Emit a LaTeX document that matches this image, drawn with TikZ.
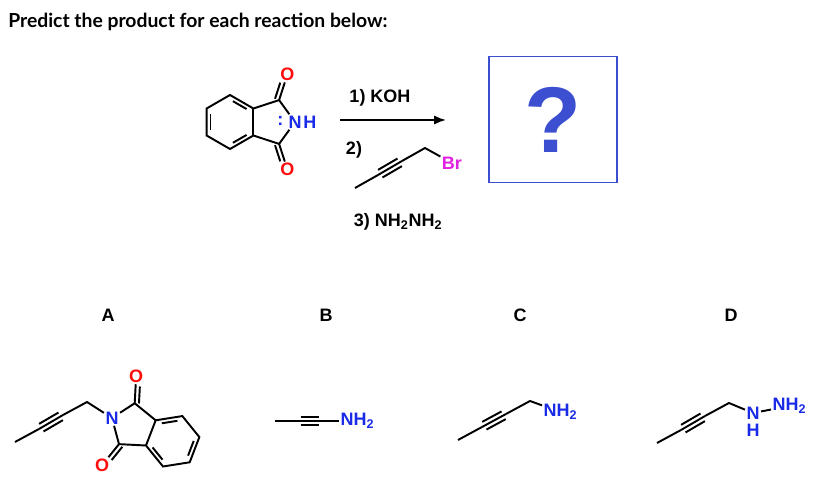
\documentclass[tikz,border=0pt]{standalone}
\usepackage{fontspec}
\setmainfont{Liberation Sans}
\newfontfamily\titlefont{Lato}
\usetikzlibrary{calc,arrows.meta}
\definecolor{oxred}{HTML}{FF0D0D}
\definecolor{nblue}{HTML}{1A2BE8}
\definecolor{brmag}{HTML}{E020E0}
\definecolor{boxblue}{HTML}{3B4FD0}
\tikzset{bond/.style={line width=1.45pt},
 atom/.style={inner sep=1pt,font=\fontsize{13.5}{15}\selectfont\bfseries},
 atomO/.style={atom,text=oxred},
 atomN/.style={atom,text=nblue},
 lbl/.style={font=\fontsize{13.5}{15}\selectfont\bfseries,inner sep=0pt}}
\newcommand\phth[3]{%
\begin{scope}[shift={#1},yscale=-1,rotate=#2]
\coordinate (#3N) at (0,0);
\coordinate (#3C1) at (-15.9,21.9);
\coordinate (#3C7a) at (-41.6,13.5);
\coordinate (#3C3a) at (-41.6,-13.5);
\coordinate (#3C3) at (-15.9,-21.9);
\coordinate (#3O1) at (-7.6,47.6);
\coordinate (#3O3) at (-7.6,-47.6);
\coordinate (#3b2) at (-65,27);
\coordinate (#3b3) at (-88.4,13.5);
\coordinate (#3b4) at (-88.4,-13.5);
\coordinate (#3b5) at (-65,-27);
\coordinate (#3i1) at (-45.5,11.25);
\coordinate (#3i2) at (-65,22.5);
\coordinate (#3i3) at (-84.5,11.25);
\coordinate (#3i4) at (-84.5,-11.25);
\coordinate (#3i5) at (-65,-22.5);
\coordinate (#3i6) at (-45.5,-11.25);
\node[atomN] (#3Nl) at (#3N) {N};
\node[atomO] (#3Ol1) at (#3O1) {O};
\node[atomO] (#3Ol3) at (#3O3) {O};
\draw[bond] (#3Nl) -- (#3C1) -- (#3C7a) -- (#3b2) -- (#3b3) -- (#3b4) -- (#3b5) -- (#3C3a) -- (#3C3) -- (#3Nl);
\draw[bond] (#3C7a) -- (#3C3a);
\draw[bond] (#3C1) -- (#3Ol1);
\draw[bond] (#3C3) -- (#3Ol3);
\draw[bond,shorten >=7.5pt] ($(#3C1)!3.2pt!-90:(#3O1)$) -- ($(#3O1)!3.2pt!90:(#3C1)$);
\draw[bond,shorten >=7.5pt] ($(#3C3)!3.2pt!90:(#3O3)$) -- ($(#3O3)!3.2pt!-90:(#3C3)$);
\draw[bond] ($(#3i1)!0.15!(#3i2)$) -- ($(#3i1)!0.85!(#3i2)$);
\draw[bond] ($(#3i3)!0.15!(#3i4)$) -- ($(#3i3)!0.85!(#3i4)$);
\draw[bond] ($(#3i5)!0.15!(#3i6)$) -- ($(#3i5)!0.85!(#3i6)$);
\end{scope}}
\newcommand\trip[2]{%
\draw[bond] (#1) -- (#2);
\draw[bond,shorten <=2pt,shorten >=2pt] ($(#1)!3.3pt!90:(#2)$) -- ($(#2)!3.3pt!-90:(#1)$);
\draw[bond,shorten <=2pt,shorten >=2pt] ($(#1)!3.3pt!-90:(#2)$) -- ($(#2)!3.3pt!90:(#1)$);}
\begin{document}
\begin{tikzpicture}[x=0.75pt,y=-0.75pt]
\useasboundingbox (0,0) rectangle (819,499);
\node[anchor=west,inner sep=0pt,font=\titlefont\fontsize{14.5}{17}\selectfont\bfseries] (title) at (8,22) {Predict the product for each reaction below:};
% top reactant
\phth{(295,122)}{0}{T}
\node[atomN,anchor=west] (TH) at (TNl.east) {\kern-1ptH};
\node[atomN,anchor=east] (Tcol) at ($(TNl.west)+(-2,-1)$) {:};
% arrow & conditions
\coordinate (arA) at (340,120);
\coordinate (arB) at (446,120);
\draw[bond,-{Latex[length=9pt,width=7pt]}] (arA) -- (arB);
\node[lbl] (koh) at (380,98) {1) KOH};
\node[lbl] (two) at (354,150) {2)};
\coordinate (r1) at (355,188);
\coordinate (r2) at (378,175);
\coordinate (r3) at (402,161);
\coordinate (r4) at (425,148);
\node[atom,text=brmag] (rBr) at (452,163) {Br};
\draw[bond] (r1) -- (r2); \trip{r2}{r3}; \draw[bond] (r3) -- (r4) -- (rBr);
\node[lbl] (three) at (398,222) {3) NH$_{\mathbf 2}$NH$_{\mathbf 2}$};
% box
\node[draw=boxblue,line width=0.9pt,minimum width=96pt,minimum height=94pt,inner sep=0pt] (box) at (553,119.5) {};
\node[text=boxblue,font=\fontsize{70}{72}\selectfont\bfseries,inner sep=0pt] (q) at (553,120) {?};
% labels
\node[lbl] (lA) at (108,315) {A};
\node[lbl] (lB) at (326,315) {B};
\node[lbl] (lC) at (520,315) {C};
\node[lbl] (lD) at (731,315) {D};
% A
\phth{(112,418)}{-159}{A}
\coordinate (a1) at (15,442);
\coordinate (a2) at (39,429);
\coordinate (a3) at (63,415);
\coordinate (a4) at (87,402);
\draw[bond] (a1) -- (a2); \trip{a2}{a3}; \draw[bond] (a3) -- (a4) -- (ANl);
% B
\coordinate (bb1) at (275,421);
\coordinate (bb2) at (298,421);
\coordinate (bb3) at (322,421);
\node[atomN,anchor=west] (bN) at (339,421) {NH$_{\mathbf 2}$};
\draw[bond] (bb1) -- (bb2); \trip{bb2}{bb3}; \draw[bond] (bb3) -- (bN);
% C
\coordinate (c1) at (458,440);
\coordinate (c2) at (482,427);
\coordinate (c3) at (506,414);
\coordinate (c4) at (530,401);
\node[atomN,anchor=west] (cN) at (542,412) {NH$_{\mathbf 2}$};
\draw[bond] (c1) -- (c2); \trip{c2}{c3}; \draw[bond] (c3) -- (c4) -- (cN);
% D
\coordinate (d1) at (657,443);
\coordinate (d2) at (681,430);
\coordinate (d3) at (705,416);
\coordinate (d4) at (729,403);
\node[atomN] (dN) at (753,413) {N};
\node[atomN] (dH) at (753,430) {H};
\node[atomN,anchor=west] (dNN) at (771,406) {NH$_{\mathbf 2}$};
\draw[bond] (d1) -- (d2); \trip{d2}{d3}; \draw[bond] (d3) -- (d4) -- (dN);
\draw[bond] (dN) -- (dNN);
\end{tikzpicture}
\end{document}
